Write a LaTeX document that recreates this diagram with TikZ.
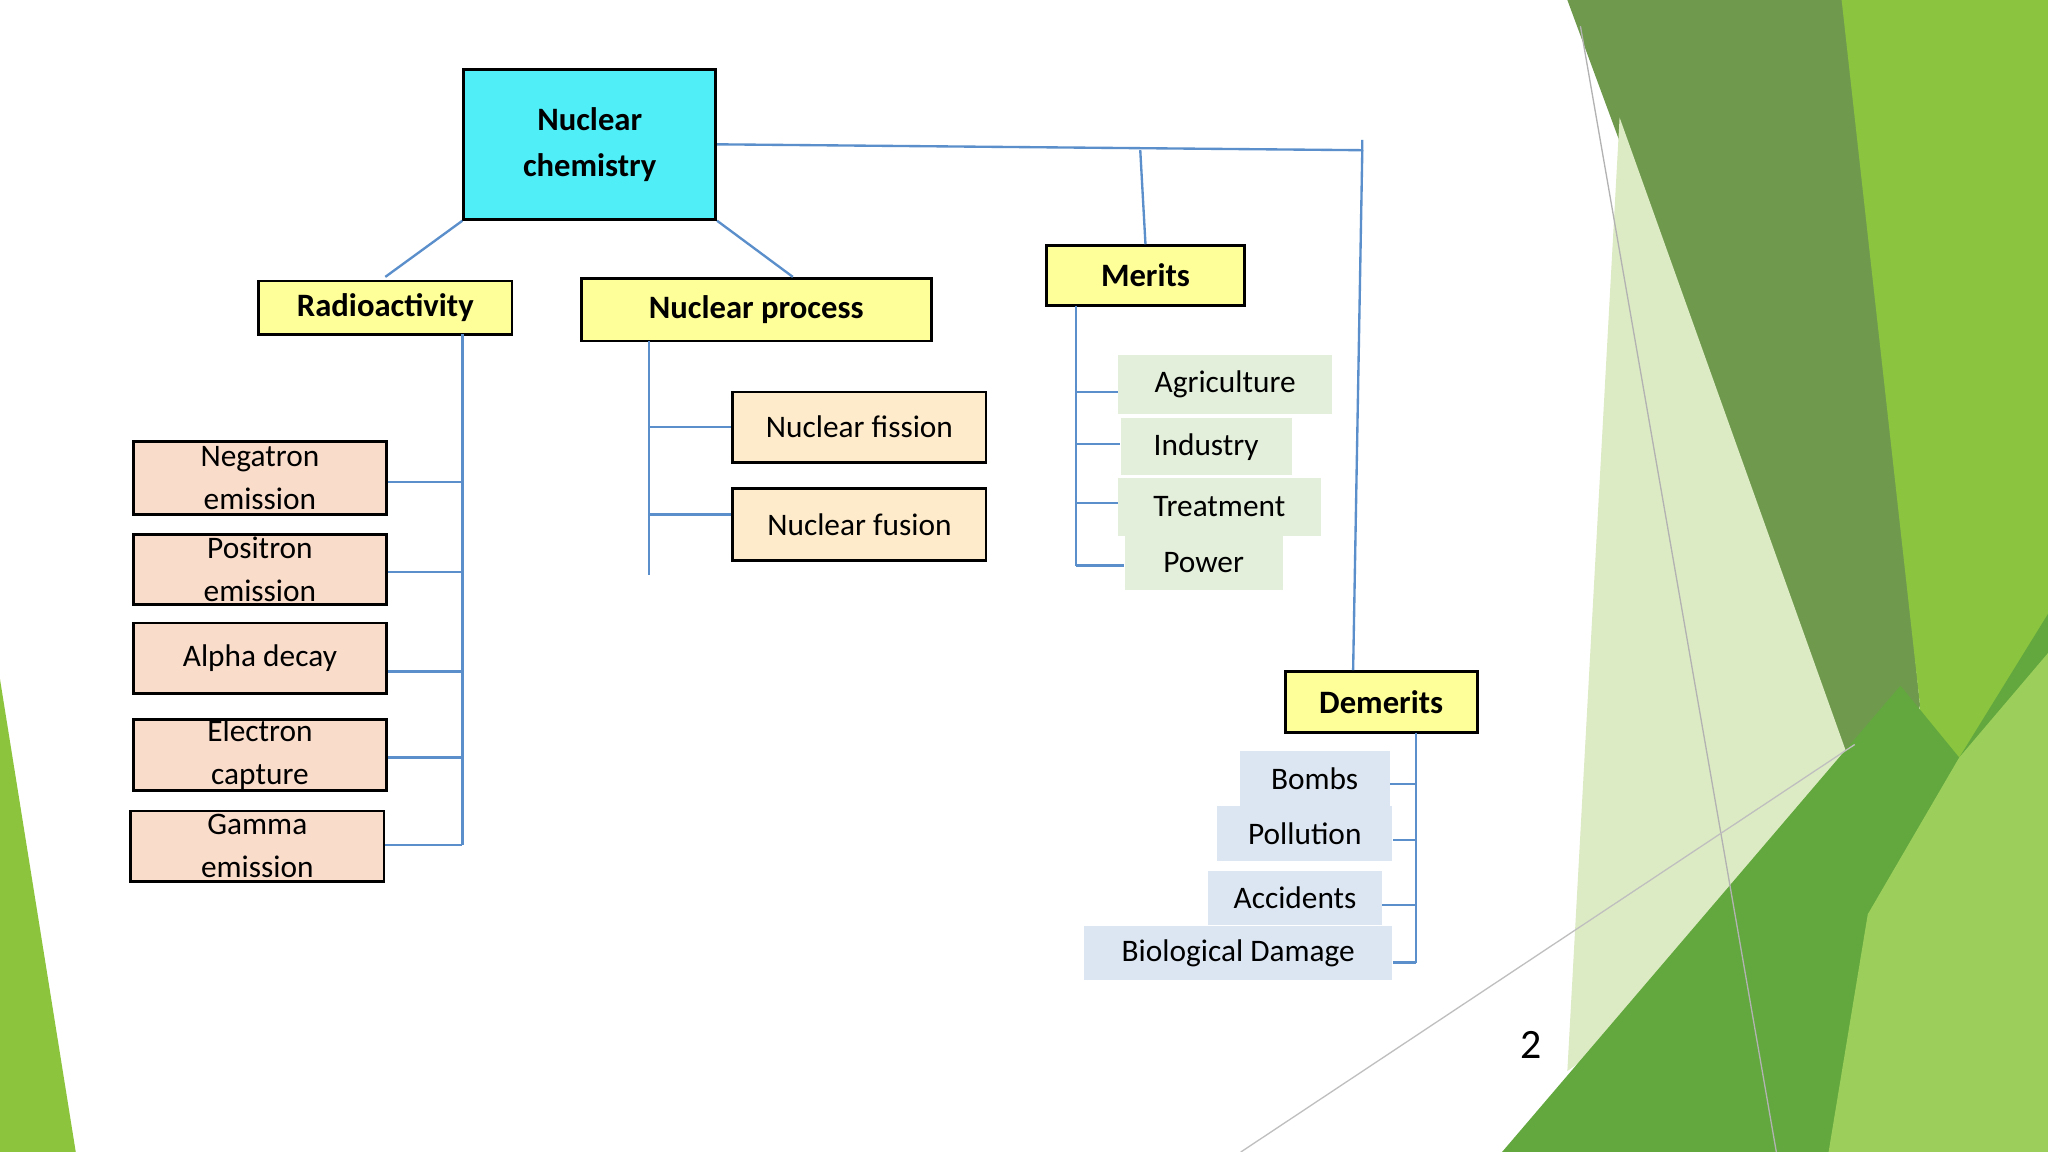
\documentclass[tikz,border=0pt]{standalone}
\usepackage{fontspec}
\setmainfont{Carlito}
\definecolor{lg}{HTML}{8CC43E}
\definecolor{olv}{HTML}{6F9A4E}
\definecolor{brt}{HTML}{8BC53F}
\definecolor{pale}{HTML}{DDEBC4}
\definecolor{mid}{HTML}{62A83E}
\definecolor{lnc}{HTML}{5B8FCB}
\definecolor{cy}{HTML}{50EEF7}
\definecolor{yl}{HTML}{FFFF99}
\definecolor{pk}{HTML}{FADCCB}
\definecolor{fc}{HTML}{FEEBCB}
\definecolor{gc}{HTML}{E3EEDB}
\definecolor{bc}{HTML}{DCE6F2}
\begin{document}
\begin{tikzpicture}[x=0.5pt,y=-0.5pt,
  ln/.style={draw=lnc, line width=0.9pt},
  ybox/.style={draw=black, line width=1pt, fill=yl, font=\bfseries\fontsize{12.5}{13.5}\selectfont},
  pbox/.style={draw=black, line width=1pt, fill=pk},
  fbox/.style={draw=black, line width=1pt, fill=fc},
  gbox/.style={fill=gc},
  bbox/.style={fill=bc},
  every node/.style={font=\fontsize{12}{13.5}\selectfont, inner sep=0pt, align=center}]
\useasboundingbox (0,0) rectangle (1568,882);
\fill[white] (0,0) rectangle (1568,882);
% background shapes
\fill[lg] (0,520) -- (58,882) -- (0,882) -- cycle;
\fill[olv] (1200,0) -- (1415,0) -- (1470,540) -- (1440,650) -- cycle;
\fill[brt] (1410,0) -- (1568,0) -- (1568,882) -- (1420,882) -- (1470,540) -- cycle;
\fill[pale] (1240,90) -- (1440,650) -- (1200,820) -- cycle;
\fill[mid] (1150,882) -- (1455,525) -- (1500,580) -- (1568,470) -- (1568,882) -- cycle;
\fill[brt!85!white] (1430,700) -- (1500,580) -- (1568,500) -- (1568,882) -- (1400,882) -- cycle;
\draw[gray!60, line width=0.5pt] (1210,20) -- (1360,882);
\draw[gray!50, line width=0.5pt] (950,882) -- (1420,570);
\node[font=\fontsize{16}{18}\selectfont] (pg) at (1172,800) {2};
% nodes
\newcommand\bx[7]{\node[#6, minimum width={(#4-#2)*0.5pt}, minimum height={(#5-#3)*0.5pt}] (#1) at ({(#2+#4)/2},{(#3+#5)/2}) {#7};}
\bx{nc}{355}{53}{548}{168}{draw=black,line width=1pt,fill=cy,font=\bfseries\fontsize{12.5}{17.5}\selectfont}{Nuclear\\chemistry}
\bx{rad}{198}{215}{392}{256}{ybox}{Radioactivity}
\bx{np}{445}{213}{713}{261}{ybox}{Nuclear process}
\bx{mer}{801}{188}{953}{234}{ybox}{Merits}
\bx{dem}{984}{514}{1131}{561}{ybox}{Demerits}
\bx{neg}{102}{338}{296}{394}{pbox,font=\fontsize{12}{16.5}\selectfont}{Negatron\\emission}
\bx{pos}{102}{409}{296}{463}{pbox,font=\fontsize{12}{16.5}\selectfont}{Positron\\emission}
\bx{alp}{102}{477}{296}{531}{pbox}{Alpha decay}
\bx{ele}{102}{551}{296}{605}{pbox,font=\fontsize{12}{16.5}\selectfont}{Electron\\capture}
\bx{gam}{100}{621}{294}{675}{pbox,font=\fontsize{12}{16.5}\selectfont}{Gamma\\emission}
\bx{fis}{561}{300}{755}{354}{fbox}{Nuclear fission}
\bx{fus}{561}{374}{755}{429}{fbox}{Nuclear fusion}
\bx{agr}{856}{272}{1020}{317}{gbox}{Agriculture}
\bx{ind}{858}{320}{989}{364}{gbox}{Industry}
\bx{tre}{856}{366}{1011}{410}{gbox}{Treatment}
\bx{pow}{861}{410}{982}{452}{gbox}{Power}
\bx{bom}{949}{575}{1064}{617}{bbox}{Bombs}
\bx{pol}{932}{617}{1066}{659}{bbox}{Pollution}
\bx{acc}{925}{667}{1058}{708}{bbox}{Accidents}
\bx{bio}{830}{709}{1066}{750}{bbox}{Biological Damage}
% coordinates
\coordinate (rt) at (354,256); \coordinate (rb) at (354,647);
\coordinate (pt) at (497,261); \coordinate (pb) at (497,440);
\coordinate (mt) at (824,234); \coordinate (mb) at (824,433);
\coordinate (dt) at (1084,561); \coordinate (db) at (1084,737);
\coordinate (tr) at (1043,115); \coordinate (mj) at (873,115);
% connectors
\draw[ln] (nc.east) -- (tr) -- (1043,107);
\draw[ln] (tr) -- (1036,512) -- (dem.north -| 1036,0);
\draw[ln] (mj) -- (mer.north);
\draw[ln] (nc.south west) -- (295,212);
\draw[ln] (nc.south east) -- (607,212);
\draw[ln] (rt) -- (rb);
\foreach \n/\y in {neg/369,pos/438,alp/514,ele/580,gam/647} \draw[ln] (\n.east |- 0,\y) -- (354,\y);
\draw[ln] (pt) -- (pb);
\foreach \n/\y in {fis/327,fus/394} \draw[ln] (497,\y) -- (\n.west |- 0,\y);
\draw[ln] (mt) -- (mb);
\foreach \n/\y in {agr/300,ind/340,tre/385,pow/433} \draw[ln] (824,\y) -- (\n.west |- 0,\y);
\draw[ln] (dt) -- (db);
\foreach \n/\y in {bom/600,pol/643,acc/693,bio/737} \draw[ln] (\n.east |- 0,\y) -- (1084,\y);
\end{tikzpicture}
\end{document}
